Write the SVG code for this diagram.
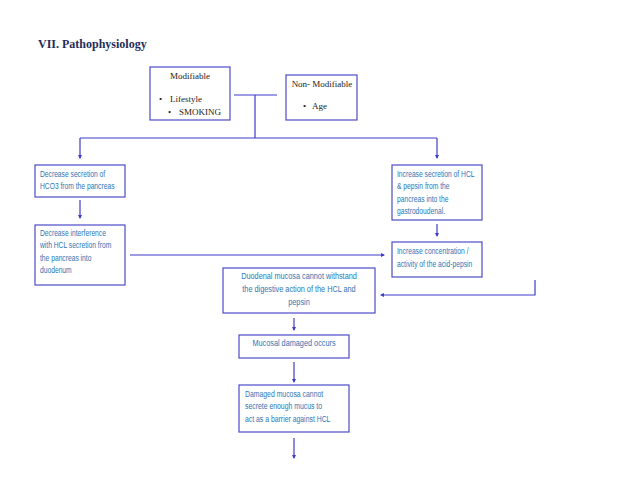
<svg xmlns="http://www.w3.org/2000/svg" width="638" height="493" viewBox="0 0 638 493">
<style>
.b{fill:#fff;stroke:#4b4bc8;stroke-width:1.2}
.c{fill:none;stroke:#3c3cc8;stroke-width:1.2}
.t{font-family:"Liberation Sans",Arial,sans-serif;font-size:8.6px;fill:#2e75b6}
.m{text-anchor:middle}
.s{font-family:"Liberation Serif","Times New Roman",serif;font-size:9px;fill:#222}
</style>
<defs><marker id="a" markerWidth="4" markerHeight="4" refX="3" refY="2" orient="auto" markerUnits="userSpaceOnUse"><path d="M0,0L4,2L0,4z" fill="#3c3cc8"/></marker></defs>
<rect width="638" height="493" fill="#fff"/>
<text x="38" y="48" font-family="Liberation Serif,serif" font-weight="bold" font-size="12" fill="#1f2d5a">VII. Pathophysiology</text>
<g id="connectors">
<path class="c" d="M234,95H277M255,95V138M80,138H437"/>
<path class="c" d="M80,138V158" marker-end="url(#a)"/>
<path class="c" d="M437,138V158" marker-end="url(#a)"/>
<path class="c" d="M80,200V218" marker-end="url(#a)"/>
<path class="c" d="M437,224V236" marker-end="url(#a)"/>
<path class="c" d="M130,255H384" marker-end="url(#a)"/>
<path class="c" d="M535,280V295H381" marker-end="url(#a)"/>
<path class="c" d="M294,318V330" marker-end="url(#a)"/>
<path class="c" d="M294,362V382" marker-end="url(#a)"/>
<path class="c" d="M294,438V458" marker-end="url(#a)"/>
</g>
<g id="modifiable"><rect class="b" x="150" y="67" width="80" height="53"/>
<text class="s" x="190" y="79" text-anchor="middle">Modifiable</text>
<text class="s" x="159" y="102">•</text><text class="s" x="170" y="102">Lifestyle</text>
<text class="s" x="168" y="115">•</text><text class="s" x="179" y="115">SMOKING</text></g>
<g id="nonmod"><rect class="b" x="286" y="75" width="71" height="45"/>
<text class="s" x="322" y="87" text-anchor="middle">Non- Modifiable</text>
<text class="s" x="303" y="109">•</text><text class="s" x="312" y="109">Age</text></g>
<g id="n1"><rect class="b" x="35" y="165" width="90" height="32"/>
<g transform="translate(40 0) scale(0.78 1)"><text class="t" x="0" y="177">Decrease secretion of</text><text class="t" x="0" y="189">HCO3 from the pancreas</text></g></g>
<g id="n2"><rect class="b" x="35" y="225" width="90" height="60"/>
<g transform="translate(40 0) scale(0.78 1)"><text class="t" x="0" y="236">Decrease interference</text><text class="t" x="0" y="248">with HCL secretion from</text><text class="t" x="0" y="261">the pancreas into</text><text class="t" x="0" y="273">duodenum</text></g></g>
<g id="n3"><rect class="b" x="392" y="165" width="90" height="55"/>
<g transform="translate(397 0) scale(0.78 1)"><text class="t" x="0" y="177">Increase secretion of HCL</text><text class="t" x="0" y="189">&amp; pepsin from the</text><text class="t" x="0" y="202">pancreas into the</text><text class="t" x="0" y="214">gastrodoudenal.</text></g></g>
<g id="n4"><rect class="b" x="392" y="242" width="90" height="35"/>
<g transform="translate(397 0) scale(0.78 1)"><text class="t" x="0" y="254">Increase concentration /</text><text class="t" x="0" y="267">activity of the acid-pepsin</text></g></g>
<g id="n5"><rect class="b" x="223" y="268" width="152" height="45"/>
<g transform="translate(299 0) scale(0.85 1)"><text class="t m" x="0" y="279">Duodenal mucosa cannot withstand</text><text class="t m" x="0" y="292">the digestive action of the HCL and</text><text class="t m" x="0" y="305">pepsin</text></g></g>
<g id="n6"><rect class="b" x="239" y="335" width="110" height="23"/>
<g transform="translate(294 0) scale(0.85 1)"><text class="t m" x="0" y="346">Mucosal damaged occurs</text></g></g>
<g id="n7"><rect class="b" x="239" y="385" width="110" height="47"/>
<g transform="translate(245 0) scale(0.8 1)"><text class="t" x="0" y="397">Damaged mucosa cannot</text><text class="t" x="0" y="409">secrete enough mucus to</text><text class="t" x="0" y="422">act as a barrier against HCL</text></g></g>
</svg>
